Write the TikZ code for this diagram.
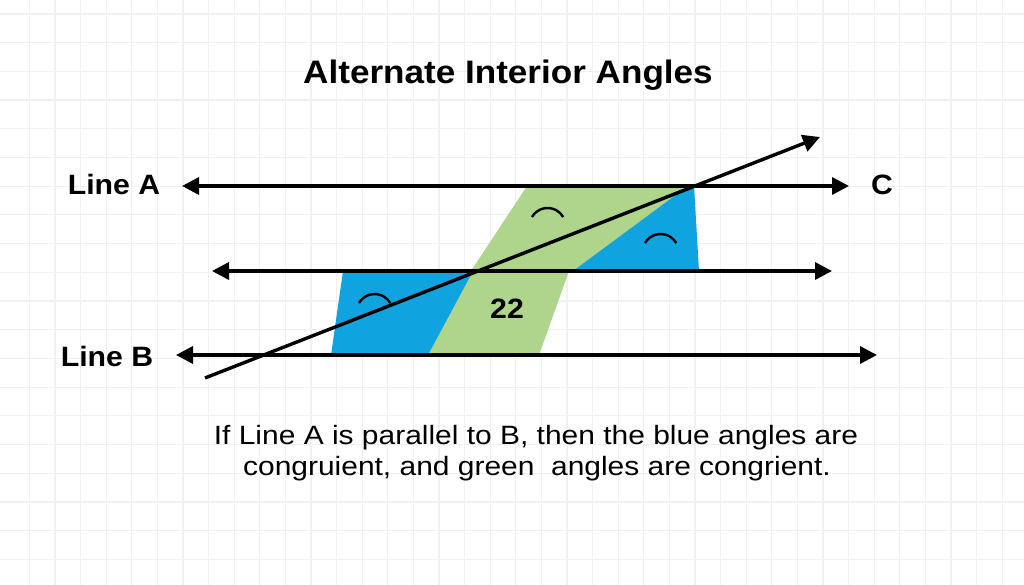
\documentclass[tikz,border=0pt]{standalone}
\usepackage{fontspec}
\setmainfont{Liberation Sans}[FakeStretch=1.08]
\newfontfamily\capfont{Liberation Sans}[FakeStretch=1.13]
\usetikzlibrary{arrows.meta,positioning}

\definecolor{gridgray}{HTML}{F1F1F1}
\definecolor{angblue}{HTML}{0FA3E0}
\definecolor{anggreen}{HTML}{AED58B}

\tikzset{
	parline/.style={line width=3.4pt, {Triangle[length=17pt,width=17pt]}-{Triangle[length=17pt,width=17pt]}},
	transline/.style={line width=3.4pt, -{Triangle[length=17pt,width=17pt]}},
	anglemark/.style={line width=2.4pt},
	lbl/.style={font=\fontsize{28}{30}\selectfont\bfseries, anchor=base, inner sep=0pt},
	caption/.style={font=\capfont\fontsize{26.5}{31}\selectfont, anchor=base, inner sep=0pt}
}

\begin{document}
\begin{tikzpicture}[x=1pt,y=-1pt]
	\useasboundingbox (0,0) rectangle (1024,585);
	\fill[white] (0,0) rectangle (1024,585);
	% grid paper
	\foreach \i in {0,...,38}
		\draw[gridgray, line width=1.2pt] (29.3+25.6*\i,0) -- ++(0,585);
	\foreach \j in {0,...,19}
		\draw[gridgray, line width=1.2pt] (0,14+28.7*\j) -- ++(1024,0);

	% end points of the lines
	\coordinate (aL) at (182,186);
	\coordinate (aR) at (849,186);
	\coordinate (mL) at (212,271);
	\coordinate (mR) at (832,271);
	\coordinate (bL) at (176,355);
	\coordinate (bR) at (877,355);
	\coordinate (tS) at (205,378);
	\coordinate (tE) at (820,137);

	% shaded angles
	\fill[anggreen] (527,186) -- (690,186) -- (573,271) -- (471,271) -- cycle;
	\fill[anggreen] (471,271) -- (569,271) -- (539,355) -- (428,355) -- cycle;
	\fill[angblue] (688,186) -- (694,186) -- (699,271) -- (573,271) -- cycle;
	\fill[angblue] (343,271) -- (473,271) -- (428,355) -- (331,355) -- cycle;

	% angle marks
	\draw[anglemark] (532,217) arc[start angle=210, end angle=330, radius=18];
	\draw[anglemark] (645,243) arc[start angle=210, end angle=330, radius=18];
	\draw[anglemark] (359,303) arc[start angle=210, end angle=330, radius=18];

	% lines
	\draw[parline] (aL) -- (aR);
	\draw[parline] (mL) -- (mR);
	\draw[parline] (bL) -- (bR);
	\draw[transline] (tS) -- (tE);

	% labels
	\node[lbl, font=\fontsize{32.5}{34}\selectfont\bfseries] (title) at (508,84) {Alternate Interior Angles};
	\node[lbl] (lineA) at (114,195) {Line A};
	\node[lbl] (lineB) at (107,366) {Line B};
	\node[lbl] (c) at (882,195) {C};
	\node[lbl] (num) at (507,318) {22};
	\node[caption] (cap1) at (536,444) {If Line A is parallel to B, then the blue angles are};
	\node[caption] (cap2) at (537,475) {congruient, and green\ \ angles are congrient.};
\end{tikzpicture}
\end{document}
